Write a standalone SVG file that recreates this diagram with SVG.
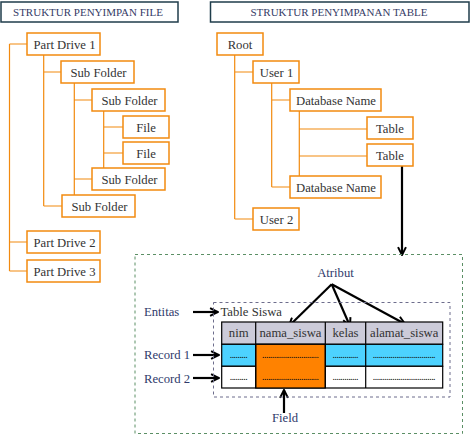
<svg xmlns="http://www.w3.org/2000/svg" width="470" height="435" viewBox="0 0 470 435">
<defs>
<style>
.t{font-family:"Liberation Serif","DejaVu Serif",serif;font-size:12.7px;fill:#333;}
.lbl{font-family:"Liberation Serif","DejaVu Serif",serif;font-size:12.7px;fill:#2f3a6b;}
.ttl{font-family:"Liberation Serif","DejaVu Serif",serif;font-size:11px;fill:#353b66;}
.dot{font-family:"Liberation Sans","DejaVu Sans",sans-serif;font-size:7px;font-weight:bold;fill:#111;}
.tb{fill:none;stroke:#1f3d4b;stroke-width:1.5;}
.n{fill:#fff;stroke:#f28a0f;stroke-width:1.5;}
.c{fill:none;stroke:#f28a0f;stroke-width:1.2;}
.a{fill:none;stroke:#000;stroke-width:2.2;}
.cell{stroke:#000;stroke-width:1.2;}
</style>
<marker id="ah" viewBox="0 0 10 10" refX="9" refY="5" markerWidth="4.5" markerHeight="4.5" orient="auto" markerUnits="strokeWidth">
<path d="M1,1 L9,5 L1,9" fill="none" stroke="#000" stroke-width="2"/>
</marker>
</defs>
<rect x="0" y="0" width="470" height="435" fill="#fff"/>

<g id="title-file">
<rect class="tb" x="1" y="2" width="177" height="20"/>
<text class="ttl" x="88" y="16" text-anchor="middle">STRUKTUR PENYIMPAN FILE</text>
</g>
<g id="title-table">
<rect class="tb" x="210.5" y="2" width="258.5" height="20"/>
<text class="ttl" x="339" y="16" text-anchor="middle">STRUKTUR PENYIMPANAN TABLE</text>
</g>

<g id="connectors">
<path class="c" d="M9.5,44 V271 M9.5,44 H27 M9.5,242 H27 M9.5,271 H27"/>
<path class="c" d="M43.7,55 V206 M43.7,72 H61 M43.7,206 H62"/>
<path class="c" d="M74.3,83 V195 M74.3,100 H92 M74.3,179 H92"/>
<path class="c" d="M103.7,111 V168 M103.7,127 H123 M103.7,153 H123"/>
<path class="c" d="M234.7,55 V219 M234.7,72 H253 M234.7,219 H253"/>
<path class="c" d="M271.7,83 V187 M271.7,100 H290 M271.7,187 H290"/>
<path class="c" d="M299.3,111 V176 M299.3,129 H367 M299.3,156 H367"/>
<path class="a" d="M402,166 V255" marker-end="url(#ah)"/>
<path class="a" d="M331.7,284.3 L289,326" marker-end="url(#ah)"/>
<path class="a" d="M331.7,284.3 L350,326" marker-end="url(#ah)"/>
<path class="a" d="M331.7,284.3 L405,324" marker-end="url(#ah)"/>
<path class="a" d="M193,312 H218" marker-end="url(#ah)"/>
<path class="a" d="M193,355 H219" marker-end="url(#ah)"/>
<path class="a" d="M193,378 H219" marker-end="url(#ah)"/>
<path class="a" d="M284,413 V390" marker-end="url(#ah)"/>
</g>

<g id="part-drive-1"><rect class="n" x="27" y="33" width="73" height="22"/><text class="t" x="64.5" y="48.5" text-anchor="middle">Part Drive 1</text></g>
<g id="sub-folder-1"><rect class="n" x="61" y="61" width="73" height="22"/><text class="t" x="98.5" y="76.5" text-anchor="middle">Sub Folder</text></g>
<g id="sub-folder-2"><rect class="n" x="92" y="89" width="73" height="22"/><text class="t" x="129.5" y="104.5" text-anchor="middle">Sub Folder</text></g>
<g id="file-1"><rect class="n" x="123" y="116" width="46" height="22"/><text class="t" x="146" y="131.5" text-anchor="middle">File</text></g>
<g id="file-2"><rect class="n" x="123" y="142" width="46" height="22"/><text class="t" x="146" y="157.5" text-anchor="middle">File</text></g>
<g id="sub-folder-3"><rect class="n" x="92" y="168" width="73" height="22"/><text class="t" x="129.5" y="183.5" text-anchor="middle">Sub Folder</text></g>
<g id="sub-folder-4"><rect class="n" x="62" y="195" width="73" height="22"/><text class="t" x="99.5" y="210.5" text-anchor="middle">Sub Folder</text></g>
<g id="part-drive-2"><rect class="n" x="27" y="231" width="73" height="22"/><text class="t" x="64.5" y="246.5" text-anchor="middle">Part Drive 2</text></g>
<g id="part-drive-3"><rect class="n" x="27" y="260" width="73" height="22"/><text class="t" x="64.5" y="275.5" text-anchor="middle">Part Drive 3</text></g>

<g id="root"><rect class="n" x="217" y="33" width="46" height="22"/><text class="t" x="240" y="48.5" text-anchor="middle">Root</text></g>
<g id="user-1"><rect class="n" x="253" y="61" width="46" height="22"/><text class="t" x="276.5" y="76.5" text-anchor="middle">User 1</text></g>
<g id="database-name-1"><rect class="n" x="290" y="89" width="91" height="22"/><text class="t" x="336" y="104.5" text-anchor="middle">Database Name</text></g>
<g id="table-1"><rect class="n" x="367" y="117" width="46" height="22"/><text class="t" x="390" y="132.5" text-anchor="middle">Table</text></g>
<g id="table-2"><rect class="n" x="367" y="144" width="46" height="22"/><text class="t" x="390" y="159.5" text-anchor="middle">Table</text></g>
<g id="database-name-2"><rect class="n" x="290" y="176" width="91" height="22"/><text class="t" x="336" y="191.5" text-anchor="middle">Database Name</text></g>
<g id="user-2"><rect class="n" x="253" y="208" width="46" height="22"/><text class="t" x="276.5" y="223.5" text-anchor="middle">User 2</text></g>

<g id="detail-box">
<rect x="135" y="254.5" width="327.5" height="179" fill="none" stroke="#5b8f65" stroke-width="1" stroke-dasharray="3,3"/>
<text class="lbl" x="335.5" y="277" text-anchor="middle">Atribut</text>
<text class="lbl" x="144" y="316">Entitas</text>
<text class="lbl" x="144" y="359">Record 1</text>
<text class="lbl" x="144" y="383">Record 2</text>
<text class="lbl" x="285" y="422" text-anchor="middle">Field</text>
</g>

<g id="table-siswa">
<rect x="213.5" y="302.5" width="236.5" height="94.5" fill="none" stroke="#6d6d8c" stroke-width="1" stroke-dasharray="3,3"/>
<text class="t" x="220.5" y="316">Table Siswa</text>
<rect class="cell" x="221.7" y="322" width="221" height="22.3" fill="#cccbd9"/>
<rect class="cell" x="221.7" y="344.3" width="221" height="22" fill="#4dd2ff"/>
<rect class="cell" x="221.7" y="366.3" width="221" height="21.7" fill="#fff"/>
<rect class="cell" x="255.7" y="344.3" width="69.6" height="43.7" fill="#ff8200"/>
<path class="cell" d="M255.7,322 V388 M325.3,322 V388 M365.7,322 V388"/>
<text class="t" x="238.7" y="337" text-anchor="middle">nim</text>
<text class="t" x="290.5" y="337" text-anchor="middle">nama_siswa</text>
<text class="t" x="345.5" y="337" text-anchor="middle">kelas</text>
<text class="t" x="404.2" y="337" text-anchor="middle">alamat_siswa</text>
<text class="dot" x="238.7" y="358" text-anchor="middle">.........</text>
<text class="dot" x="290.5" y="358" text-anchor="middle">.............................</text>
<text class="dot" x="345.5" y="358" text-anchor="middle">.............</text>
<text class="dot" x="404.2" y="358" text-anchor="middle">................................</text>
<text class="dot" x="238.7" y="380" text-anchor="middle">.........</text>
<text class="dot" x="290.5" y="380" text-anchor="middle">.............................</text>
<text class="dot" x="345.5" y="380" text-anchor="middle">.............</text>
<text class="dot" x="404.2" y="380" text-anchor="middle">................................</text>
</g>
</svg>
